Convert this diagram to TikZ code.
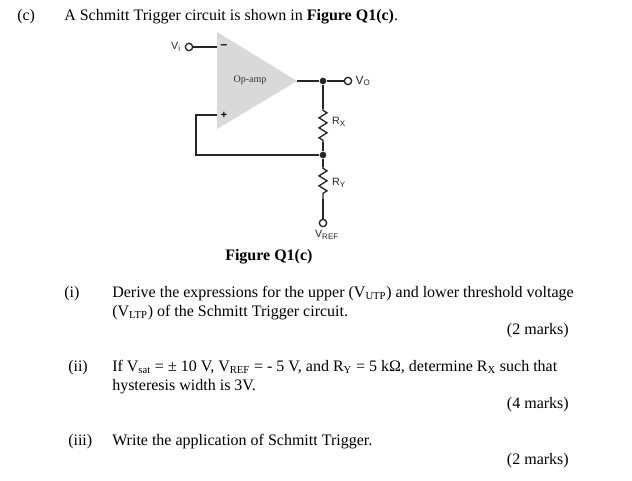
\documentclass[tikz,border=0pt]{standalone}
\usepackage{fontspec}
\setmainfont{Liberation Serif}
\setsansfont{Liberation Sans}
\usetikzlibrary{decorations.pathmorphing}
\tikzset{
  qtext/.style={anchor=base west,inner sep=0pt,font=\fontsize{12}{14}\selectfont},
  mtext/.style={anchor=base east,inner sep=0pt,font=\fontsize{12}{14}\selectfont},
  clabel/.style={inner sep=0pt,font=\sffamily\fontsize{8}{10}\selectfont,text=black!85},
  wire/.style={line width=1pt,black!85},
  term/.style={circle,draw=black!85,line width=1pt,fill=white,minimum size=5.5pt,inner sep=0pt},
  dotnode/.style={circle,fill=black!85,minimum size=5pt,inner sep=0pt},
  resistor/.style={wire,decorate,decoration={zigzag,segment length=7.5pt,amplitude=3pt,pre length=1pt,post length=1pt}}
}
\newcommand{\subs}[1]{\textsubscript{#1}}
\begin{document}
\begin{tikzpicture}[x=0.75pt,y=-0.75pt]
  \useasboundingbox (0,0) rectangle (632,481);

  % Question text
  \node[qtext] (qc) at (17,21) {(c)};
  \node[qtext] (qctext) at (64,21) {A Schmitt Trigger circuit is shown in \textbf{Figure Q1(c)}.};
  \node[qtext] (caption) at (225,261) {\textbf{Figure Q1(c)}};

  \node[qtext] (qi) at (64,297) {(i)};
  \node[qtext] (qione) at (112,297) {Derive the expressions for the upper (V\subs{UTP}) and lower threshold voltage};
  \node[qtext] (qitwo) at (112,316) {(V\subs{LTP}) of the Schmitt Trigger circuit.};
  \node[mtext] (mi) at (569,334) {(2 marks)};

  \node[qtext] (qii) at (68,371) {(ii)};
  \node[qtext] (qiione) at (112,371) {If V\subs{sat} = ± 10 V, V\subs{REF} = - 5 V, and R\subs{Y} = 5 kΩ, determine R\subs{X} such that};
  \node[qtext] (qiitwo) at (112,390) {hysteresis width is 3V.};
  \node[mtext] (mii) at (569,408) {(4 marks)};

  \node[qtext] (qiii) at (68,445) {(iii)};
  \node[qtext] (qiiitext) at (112,445) {Write the application of Schmitt Trigger.};
  \node[mtext] (miii) at (569,464) {(2 marks)};

  % Op-amp
  \coordinate (optop) at (217,32);
  \coordinate (opbot) at (217,129);
  \coordinate (opout) at (297,81);
  \fill[black!15] (optop) -- (opout) -- (opbot) -- cycle;
  \node[inner sep=0pt,font=\fontsize{7.5}{9}\selectfont,text=black!80] (oplabel) at (250,80) {Op-amp};
  \node[inner sep=0pt,font=\sffamily\bfseries\fontsize{9}{10}\selectfont] (opminus) at (224,47) {--};
  \node[inner sep=0pt,font=\sffamily\bfseries\fontsize{8}{10}\selectfont] (opplus) at (224,115) {+};

  % Terminals and junctions
  \coordinate (inminus) at (217,47);
  \coordinate (inplus) at (217,115);
  \coordinate (corner) at (196,115);
  \coordinate (cornerb) at (196,155);
  \node[term] (vi) at (189,47) {};
  \node[term] (vo) at (348,81) {};
  \node[term] (vref) at (323,223) {};
  \node[dotnode] (jout) at (323,81) {};
  \node[dotnode] (jmid) at (323,155) {};
  \coordinate (rxtop) at (323,109);
  \coordinate (rxbot) at (323,142);
  \coordinate (rytop) at (323,167);
  \coordinate (rybot) at (323,199);

  % Wires
  \draw[wire] (vi) -- (inminus);
  \draw[wire] (opout) -- (jout) -- (vo);
  \draw[wire] (inplus) -- (corner) -- (cornerb) -- (jmid);
  \draw[wire] (jout) -- (rxtop);
  \draw[resistor] (rxtop) -- (rxbot);
  \draw[wire] (rxbot) -- (jmid) -- (rytop);
  \draw[resistor] (rytop) -- (rybot);
  \draw[wire] (rybot) -- (vref);

  % Circuit labels
  \node[clabel] (vilabel) at (176,47) {V\subs{i}};
  \node[clabel,font=\sffamily\fontsize{9}{10}\selectfont] (volabel) at (363,81) {V\subs{O}};
  \node[clabel] (rxlabel) at (339,122) {R\subs{X}};
  \node[clabel] (rylabel) at (339,183) {R\subs{Y}};
  \node[clabel] (vreflabel) at (327,235) {V\subs{REF}};
\end{tikzpicture}
\end{document}
